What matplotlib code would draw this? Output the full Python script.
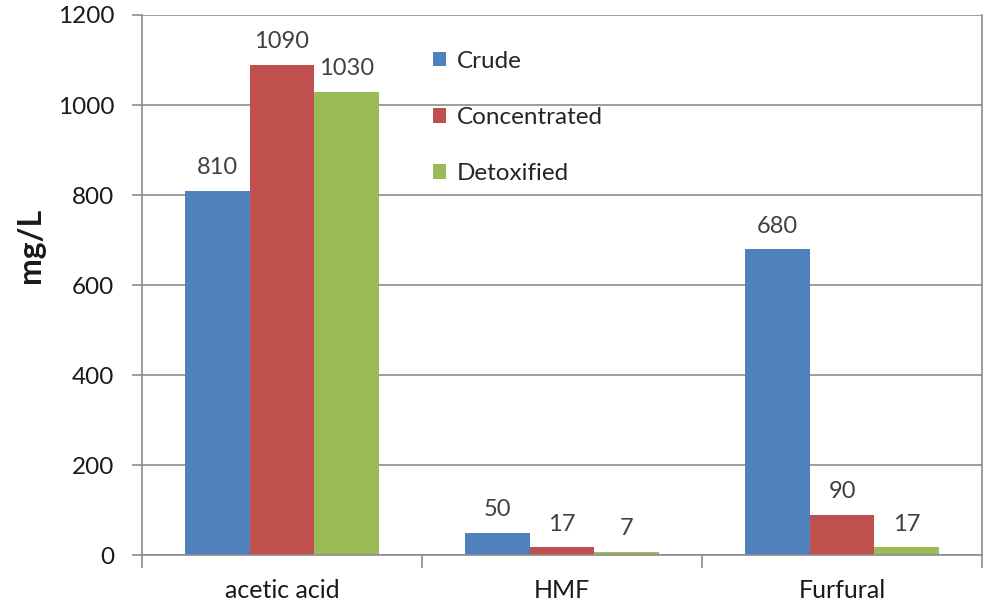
import numpy as np
import matplotlib
matplotlib.use('Agg')
import matplotlib.pyplot as plt

plt.rcParams['font.family'] = ['Lato', 'DejaVu Sans']

categories = ['acetic acid', 'HMF', 'Furfural']
series_names = ['Crude', 'Concentrated', 'Detoxified']
crude = [810, 50, 680]
concentrated = [1090, 17, 90]
detoxified = [1030, 7, 17]
yticks = [0, 200, 400, 600, 800, 1000, 1200]

colors = ['#4F81BD', '#C0504D', '#9BBB59']
grid_col = '#8c8c8c'

fig = plt.figure(figsize=(10, 6.12), dpi=100)
ax = fig.add_axes([0.142, 0.093, 0.840, 0.8825])

x = np.arange(len(categories))
w = 0.232
for i, (name, vals) in enumerate(zip(series_names, [crude, concentrated, detoxified])):
    pos = x + (i - 1) * w
    ax.bar(pos, vals, width=w, color=colors[i], label=name, zorder=2)
    for p, v in zip(pos, vals):
        ax.annotate(str(v), (p, v), xytext=(0, 9), textcoords='offset points',
                    ha='center', va='bottom', fontsize=17, color='#404040')

ax.set_xlim(-0.5, 2.5)
ax.set_ylim(0, 1200)
ax.set_yticks(yticks)
ax.yaxis.grid(True, color=grid_col, lw=1.2)
ax.set_axisbelow(True)

# category separators as ticks, names as minor ticks
ax.set_xticks([-0.5, 0.5, 1.5, 2.5])
ax.set_xticklabels([])
ax.set_xticks(x, minor=True)
ax.set_xticklabels(categories, minor=True, fontsize=18, color='#1a1a1a')
ax.tick_params(axis='x', which='major', length=9, color=grid_col, width=1.2)
ax.tick_params(axis='x', which='minor', length=0, pad=17)
ax.tick_params(axis='y', length=7, color=grid_col, width=1.2, labelsize=17.5,
               labelcolor='#1a1a1a', pad=13)

for s in ['left', 'right', 'bottom']:
    ax.spines[s].set_color(grid_col)
    ax.spines[s].set_linewidth(1.2)
ax.spines['top'].set_visible(False)

ax.set_ylabel('mg/L', fontsize=23, fontweight='bold', color='#1a1a1a')
ax.yaxis.set_label_coords(-0.116, 0.574)

leg = ax.legend(loc='upper left', bbox_to_anchor=(0.423, 0.933),
                bbox_transform=fig.transFigure, frameon=False, fontsize=17.5,
                handlelength=0.55, handleheight=0.55, handletextpad=0.45,
                labelspacing=1.45, borderaxespad=0)
for t in leg.get_texts():
    t.set_color('#262626')

fig.savefig('out.png', dpi=100, facecolor='white')
